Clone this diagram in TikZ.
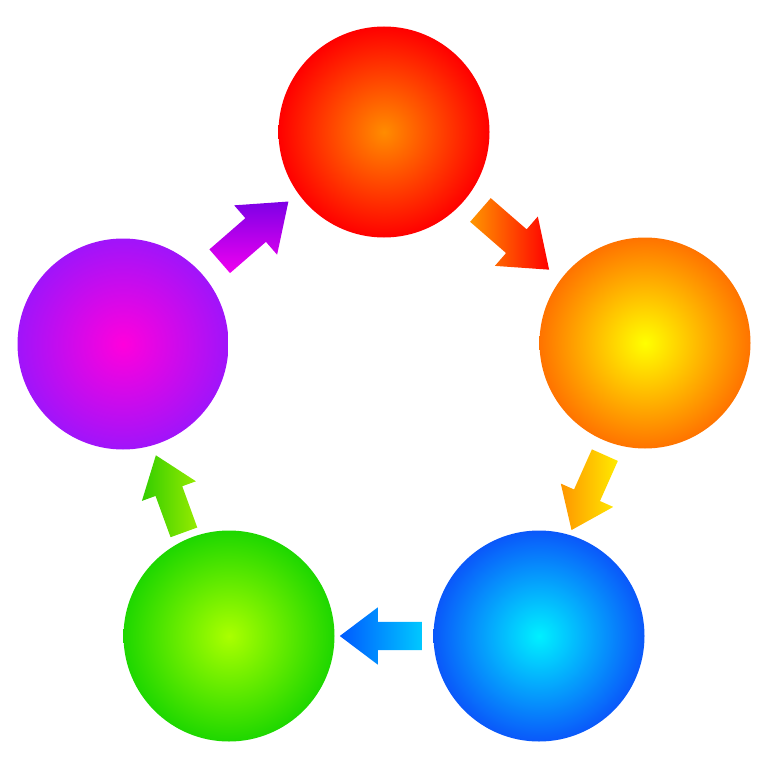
\documentclass[tikz,border=0pt]{standalone}
\usetikzlibrary{shapes.arrows,calc}

\definecolor{redout}{RGB}{255,0,0}
\definecolor{redin}{RGB}{255,140,0}
\definecolor{orangeout}{RGB}{255,115,0}
\definecolor{orangein}{RGB}{255,255,0}
\definecolor{blueout}{RGB}{10,88,250}
\definecolor{bluein}{RGB}{0,240,255}
\definecolor{greenout}{RGB}{30,215,0}
\definecolor{greenin}{RGB}{170,255,0}
\definecolor{purpleout}{RGB}{160,20,250}
\definecolor{purplein}{RGB}{255,0,220}
% arrow colours: tail / tip
\definecolor{redtail}{RGB}{255,150,0}
\definecolor{redtip}{RGB}{255,0,0}
\definecolor{orangetail}{RGB}{255,235,0}
\definecolor{orangetip}{RGB}{255,150,0}
\definecolor{bluetail}{RGB}{0,200,255}
\definecolor{bluetip}{RGB}{0,90,255}
\definecolor{greentail}{RGB}{150,235,0}
\definecolor{greentip}{RGB}{50,205,0}
\definecolor{purpletail}{RGB}{240,0,240}
\definecolor{purpletip}{RGB}{125,0,230}

\begin{document}
\begin{tikzpicture}[x=1pt,y=-1pt,
  ball/.style 2 args={circle,minimum size=211pt,inner sep=0pt,
                      inner color=#1,outer color=#2},
  flow/.style={single arrow,anchor=tail,inner xsep=0pt,inner ysep=14pt,
               minimum height=82pt,single arrow head extend=14.5pt,
               single arrow tip angle=74},
  big/.style={minimum height=91pt,inner ysep=15.5pt,
              single arrow head extend=17pt}]

  \useasboundingbox (0,0) rectangle (768,768);

  \node[ball={redin}{redout}]       (top)    at (384,132) {};
  \node[ball={orangein}{orangeout}] (right)  at (645,343) {};
  \node[ball={bluein}{blueout}]     (bright) at (539,636) {};
  \node[ball={greenin}{greenout}]   (bleft)  at (229,636) {};
  \node[ball={purplein}{purpleout}] (left)   at (123,344) {};

  % arrows between the balls, placed by their tails
  \node[flow,big,rotate=-41,left color=redtail,right color=redtip]
       (a1) at ($(top)!0.5!(right)!44pt!(top)$) {};
  \node[flow,rotate=-114,left color=orangetip,right color=orangetail]
       (a2) at ($(right)!0.5!(bright)!41pt!(right)+(-1,4)$) {};
  \node[flow,rotate=180,left color=bluetip,right color=bluetail]
       (a3) at ($(bright)!0.5!(bleft)!38pt!(bright)$) {};
  \node[flow,rotate=110,left color=greentip,right color=greentail]
       (a4) at ($(bleft)!0.5!(left)!41pt!(bleft)+(-6,4)$) {};
  \node[flow,big,rotate=41,top color=purpletip,bottom color=purpletail]
       (a5) at ($(left)!0.5!(top)!45pt!(left)+(1,-5)$) {};

\end{tikzpicture}
\end{document}
